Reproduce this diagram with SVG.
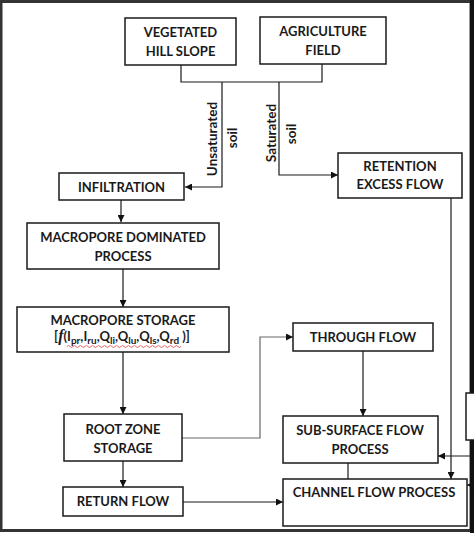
<svg xmlns="http://www.w3.org/2000/svg" width="474" height="533" viewBox="0 0 474 533">
<defs>
<marker id="ah" viewBox="0 0 10 10" refX="10" refY="5" markerWidth="7" markerHeight="7" orient="auto" markerUnits="userSpaceOnUse">
<path d="M0,0 L10,5 L0,10 z" fill="#111"/>
</marker>
</defs>
<style>
.box{fill:#fff;stroke:#1a1a1a;stroke-width:1.5}
.t{font-family:Lato,"Open Sans","Liberation Sans",sans-serif;font-weight:bold;font-size:13px;fill:#1a1a1a;text-anchor:middle}
.s{font-size:13.5px}
.ln{fill:none;stroke:#1a1a1a;stroke-width:1.2}
.lg{fill:none;stroke:#666;stroke-width:1.2}
</style>
<rect x="0" y="0" width="474" height="533" fill="#fff"/>
<!-- frame -->
<rect x="1" y="1.5" width="470" height="529" fill="none" stroke="#333" stroke-width="3"/>
<line x1="472" y1="0" x2="472" y2="533" stroke="#111" stroke-width="4"/>

<g id="connectors">
<path class="ln" d="M181,65 V82 H322 V64"/>
<path class="ln" d="M222,82 V187 H185" marker-end="url(#ah)"/>
<path class="ln" d="M279,82 V175 H338" marker-end="url(#ah)"/>
<path class="ln" d="M121,200 V222" marker-end="url(#ah)"/>
<path class="ln" d="M123,269 V307" marker-end="url(#ah)"/>
<path class="ln" d="M123,352 V414" marker-end="url(#ah)"/>
<path class="lg" d="M182,438 H260 V337 H293" marker-end="url(#ah)"/>
<path class="ln" d="M123,461 V487" marker-end="url(#ah)"/>
<path class="ln" d="M183,502 H283" marker-end="url(#ah)"/>
<path class="ln" d="M363,351 V416" marker-end="url(#ah)"/>
<path class="ln" d="M451,198 V479" marker-end="url(#ah)"/>
<path class="ln" d="M474,456 H438" marker-end="url(#ah)"/>
<path class="ln" d="M348,463 V479"/>
<path class="ln" d="M474,485 H467" marker-end="url(#ah)"/>
<text class="t s" transform="translate(217,139) rotate(-90)">Unsaturated</text>
<text class="t s" transform="translate(237,138) rotate(-90)">soil</text>
<text class="t s" transform="translate(276,133) rotate(-90)">Saturated</text>
<text class="t s" transform="translate(296,134) rotate(-90)">soil</text>
</g>

<g id="vegetated">
<rect class="box" x="125" y="18" width="111" height="47"/>
<text class="t" x="180.5" y="37">VEGETATED</text>
<text class="t" x="180.5" y="56">HILL SLOPE</text>
</g>
<g id="agriculture">
<rect class="box" x="260" y="17" width="126" height="47"/>
<text class="t" x="323" y="36">AGRICULTURE</text>
<text class="t" x="323" y="55">FIELD</text>
</g>
<g id="retention">
<rect class="box" x="338" y="153" width="124" height="45"/>
<text class="t" x="400" y="171">RETENTION</text>
<text class="t" x="400" y="189">EXCESS FLOW</text>
</g>
<g id="infiltration">
<rect class="box" x="59" y="173" width="125" height="27"/>
<text class="t" x="121.5" y="191.5">INFILTRATION</text>
</g>
<g id="macropore-dominated">
<rect class="box" x="27" y="223" width="192" height="46"/>
<text class="t" x="123" y="241.5">MACROPORE DOMINATED</text>
<text class="t" x="123" y="260.5">PROCESS</text>
</g>
<g id="macropore-storage">
<rect class="box" x="17" y="307" width="212" height="45"/>
<text class="t" x="123" y="324.5">MACROPORE STORAGE</text>
<text class="t" x="122" y="341" font-size="14">[<tspan font-style="italic" font-family="'Liberation Serif',serif" font-size="16">f</tspan>(I<tspan font-size="10" dy="3">pr</tspan><tspan dy="-3">,I</tspan><tspan font-size="10" dy="3">ru</tspan><tspan dy="-3">,Q</tspan><tspan font-size="10" dy="3">li</tspan><tspan dy="-3">,Q</tspan><tspan font-size="10" dy="3">lu</tspan><tspan dy="-3">,Q</tspan><tspan font-size="10" dy="3">ls</tspan><tspan dy="-3">,Q</tspan><tspan font-size="10" dy="3">rd</tspan><tspan dy="-3"> )]</tspan></text>
<path d="M67,346.5 q1.5,-2 3,0 t3,0 t3,0 t3,0 t3,0 t3,0 t3,0 t3,0 t3,0 t3,0 t3,0 t3,0 t3,0 t3,0 t3,0 t3,0 t3,0 t3,0 t3,0 t3,0 t3,0 t3,0 t3,0 t3,0 t3,0 t3,0 t3,0 t3,0 t3,0 t3,0 t3,0 t3,0 t3,0 t3,0 t3,0 t3,0 t3,0 t3,0" fill="none" stroke="#e04040" stroke-width="0.8"/>
</g>
<g id="root-zone">
<rect class="box" x="64" y="414" width="118" height="47"/>
<text class="t" x="123" y="433.5">ROOT ZONE</text>
<text class="t" x="123" y="452.5">STORAGE</text>
</g>
<g id="return-flow">
<rect class="box" x="63" y="487" width="120" height="29"/>
<text class="t" x="123" y="506">RETURN FLOW</text>
</g>
<g id="through-flow">
<rect class="box" x="293" y="323" width="140" height="28"/>
<text class="t" x="363" y="341.5">THROUGH FLOW</text>
</g>
<g id="sub-surface">
<rect class="box" x="283" y="416" width="155" height="47"/>
<text class="t" x="360" y="434.5">SUB-SURFACE FLOW</text>
<text class="t" x="360" y="453.5">PROCESS</text>
</g>
<g id="channel">
<rect class="box" x="283" y="479" width="184" height="47"/>
<text class="t" x="374" y="497">CHANNEL FLOW PROCESS</text>
</g>
<g id="clipped-box">
<rect class="box" x="466" y="393" width="20" height="47"/>
</g>
</svg>
